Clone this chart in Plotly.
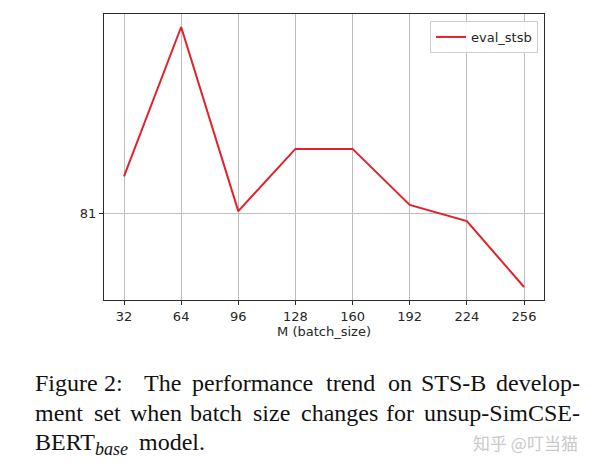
import plotly.graph_objects as go

batch_sizes = [32, 64, 96, 128, 160, 192, 224, 256]
eval_stsb = [81.30, 82.50, 81.02, 81.52, 81.52, 81.07, 80.94, 80.41]
x_ticks = batch_sizes
y_ticks = [81]

# page is drawn with the browser's default 8px body margin
OFF = 8
W, H = 596 - OFF, 466 - OFF
L, R, T, B = 104 - OFF, 52, 14 - OFF, 166
PW, PH = W - L - R, H - T - B

def px(xp):
    return (xp - OFF - L) / PW

def py(yp):
    return (T + PH - (yp - OFF)) / PH

xmin, xmax = min(batch_sizes), max(batch_sizes)
ymin, ymax = min(eval_stsb), max(eval_stsb)
xpad = 0.05 * (xmax - xmin)
ypad = 0.05 * (ymax - ymin)

fig = go.Figure()
fig.add_trace(go.Scatter(
    x=batch_sizes, y=eval_stsb, mode="lines", name="eval_stsb",
    line=dict(color="#e3202b", width=2),
))

axis_common = dict(
    showline=True, linecolor="#2b2b2b", linewidth=1, mirror=True,
    showgrid=True, gridcolor="#bdbdbd", gridwidth=1,
    ticks="outside", ticklen=4, tickwidth=1, tickcolor="#2b2b2b",
    tickfont=dict(family="DejaVu Sans", size=13, color="#262626"),
    zeroline=False,
)

fig.update_xaxes(
    range=[xmin - xpad, xmax + xpad], tickvals=x_ticks,
    title=dict(text="M (batch_size)", standoff=4,
               font=dict(family="DejaVu Sans", size=13, color="#262626")),
    **axis_common,
)
fig.update_yaxes(range=[ymin - ypad, ymax + ypad], tickvals=y_ticks, **axis_common)

# caption words (justified text approximated with per-word placement)
cap_font = dict(family="Liberation Serif", size=24, color="#111111")
lines = [
    (383, [("Figure", 33), ("2:", 102), ("The", 142), ("performance", 190),
           ("trend", 324), ("on", 386), ("STS-B", 419), ("develop-", 494)]),
    (413, [("ment", 33), ("set", 92), ("when", 128), ("batch", 188),
           ("size", 251), ("changes", 299), ("for", 384), ("unsup-SimCSE-", 422)]),
    (442, [("BERT", 33), ("model.", 137)]),
]
annotations = []
for yline, words in lines:
    for w, xw in words:
        annotations.append(dict(
            text=w, x=px(xw), y=py(yline), xref="paper", yref="paper",
            xanchor="left", yanchor="middle", showarrow=False, font=cap_font,
        ))
# subscript of BERT_base
annotations.append(dict(
    text="<i>base</i>", x=px(93), y=py(449), xref="paper", yref="paper",
    xanchor="left", yanchor="middle", showarrow=False,
    font=dict(family="Liberation Serif", size=18, color="#111111"),
))
annotations.append(dict(
    text="知乎 @叮当猫", x=px(580), y=py(442), xref="paper", yref="paper",
    xanchor="right", yanchor="middle", showarrow=False,
    font=dict(family="Noto Sans CJK SC", size=17, color="#c9c9c9"),
))

fig.update_layout(
    width=W, height=H,
    margin=dict(l=L, r=R, t=T, b=B),
    paper_bgcolor="white", plot_bgcolor="white",
    showlegend=True,
    legend=dict(
        x=px(538), y=py(21), xanchor="right", yanchor="top",
        bgcolor="rgba(255,255,255,0.9)", bordercolor="#d0d0d0", borderwidth=1,
        font=dict(family="DejaVu Sans", size=13, color="#262626"),
    ),
    annotations=annotations,
)

fig.write_html("out.html")
